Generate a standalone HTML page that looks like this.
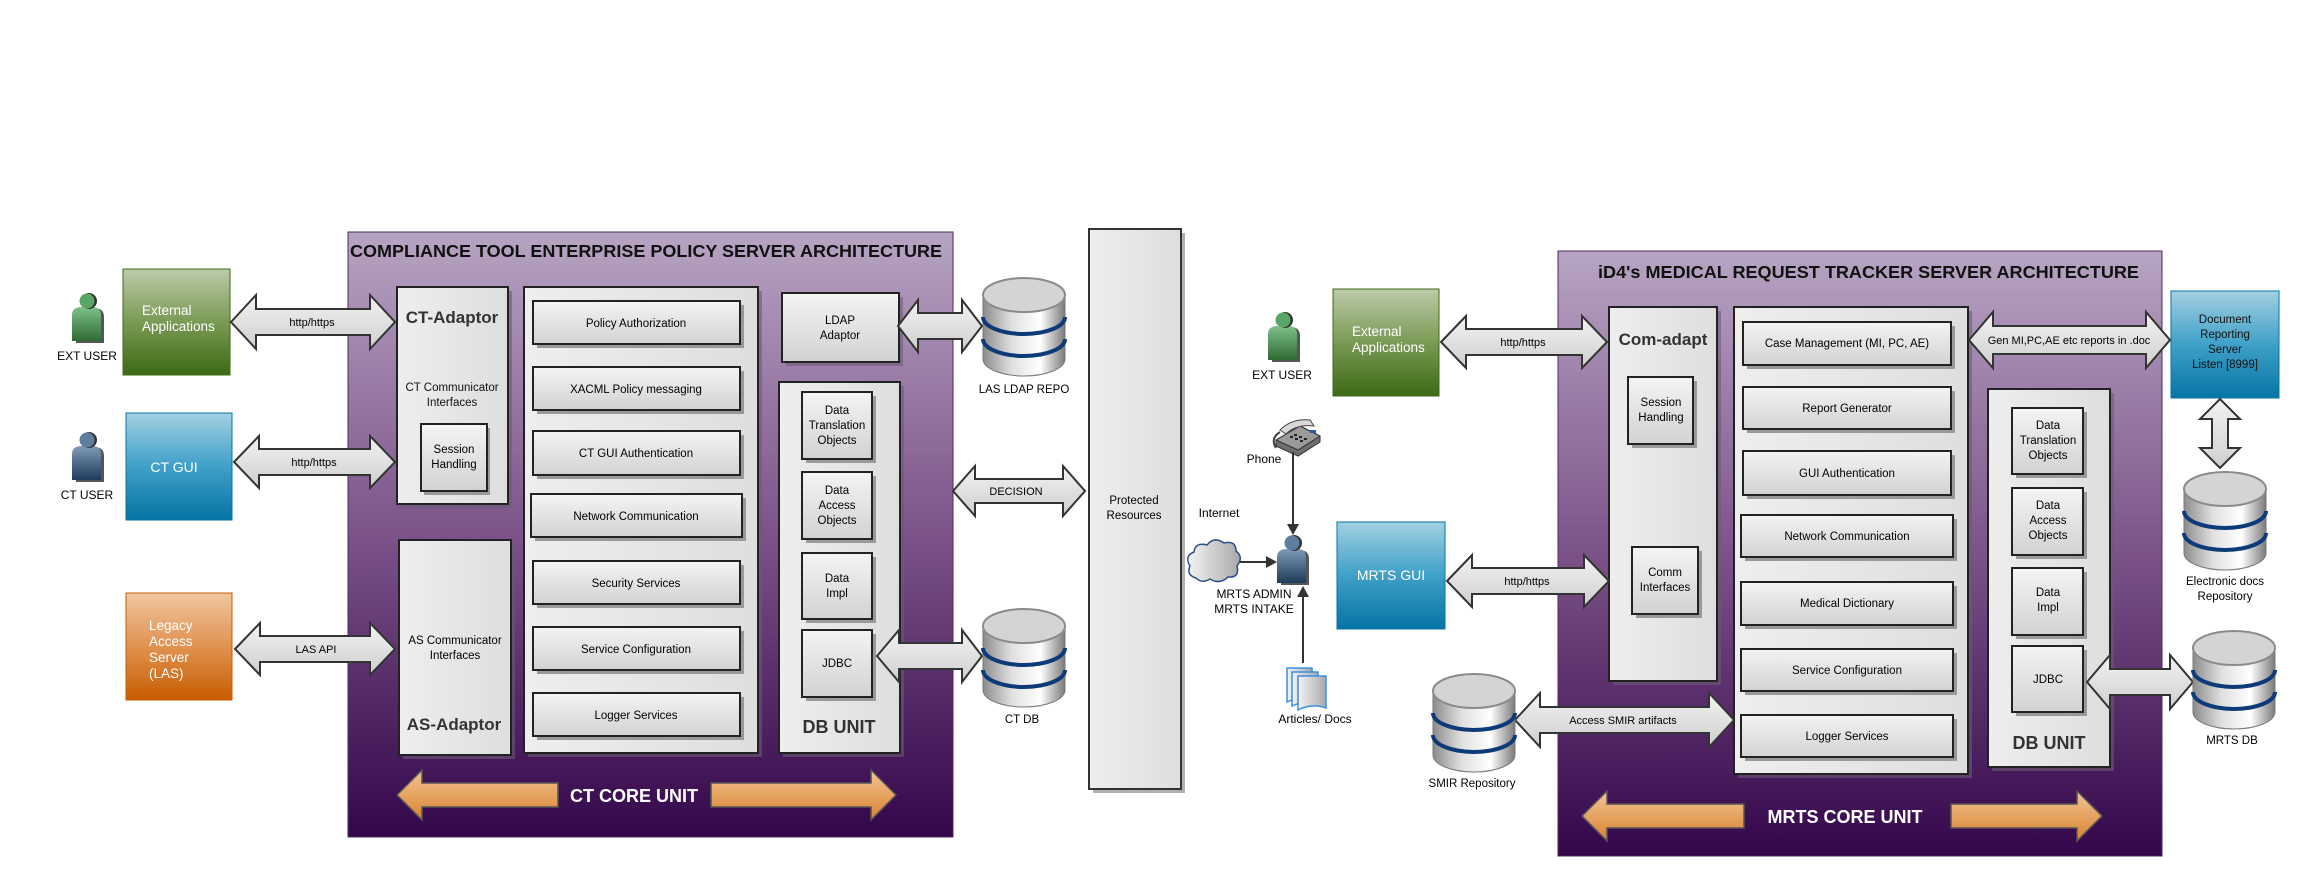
<!DOCTYPE html>
<html><head><meta charset="utf-8"><style>
html,body{margin:0;padding:0;background:#fff;}
svg{display:block;font-family:"Liberation Sans",Arial,sans-serif;}
</style></head><body>
<svg width="2299" height="878" viewBox="0 0 2299 878" xmlns="http://www.w3.org/2000/svg">
<defs>
<linearGradient id="pur" x1="0" y1="0" x2="0" y2="1"><stop offset="0" stop-color="#b7a4c2"/><stop offset="0.5" stop-color="#7b5389"/><stop offset="1" stop-color="#33064a"/></linearGradient>
<linearGradient id="box" x1="0" y1="0" x2="0" y2="1"><stop offset="0" stop-color="#f4f4f4"/><stop offset="1" stop-color="#d2d2d2"/></linearGradient>
<linearGradient id="col" x1="0" y1="0" x2="1" y2="0"><stop offset="0" stop-color="#eeeeee"/><stop offset="1" stop-color="#dedede"/></linearGradient>
<linearGradient id="arr" x1="0" y1="0" x2="0" y2="1"><stop offset="0" stop-color="#f2f2f2"/><stop offset="1" stop-color="#cfcfcf"/></linearGradient>
<linearGradient id="org" x1="0" y1="0" x2="0" y2="1"><stop offset="0" stop-color="#f3c594"/><stop offset="1" stop-color="#d9822f"/></linearGradient>
<linearGradient id="grn" x1="0" y1="0" x2="0" y2="1"><stop offset="0" stop-color="#bccbaa"/><stop offset="0.5" stop-color="#7a9a55"/><stop offset="1" stop-color="#3d6a14"/></linearGradient>
<linearGradient id="blu" x1="0" y1="0" x2="0" y2="1"><stop offset="0" stop-color="#a3d0e2"/><stop offset="0.5" stop-color="#3fa0c8"/><stop offset="1" stop-color="#0574a4"/></linearGradient>
<linearGradient id="orb" x1="0" y1="0" x2="0" y2="1"><stop offset="0" stop-color="#f0c6a0"/><stop offset="0.5" stop-color="#e09250"/><stop offset="1" stop-color="#c85c00"/></linearGradient>
<linearGradient id="cyl" x1="0" y1="0" x2="1" y2="0"><stop offset="0" stop-color="#8c8c8c"/><stop offset="0.35" stop-color="#e0e0e0"/><stop offset="0.7" stop-color="#ffffff"/><stop offset="1" stop-color="#7a7a7a"/></linearGradient>
<linearGradient id="pg" x1="0" y1="0" x2="0" y2="1"><stop offset="0" stop-color="#7fc08a"/><stop offset="1" stop-color="#2f6a32"/></linearGradient>
<linearGradient id="pb" x1="0" y1="0" x2="0" y2="1"><stop offset="0" stop-color="#7f9bb8"/><stop offset="1" stop-color="#1f3a5a"/></linearGradient>
<linearGradient id="cl" x1="0" y1="0" x2="1" y2="0"><stop offset="0" stop-color="#f4f4f4"/><stop offset="1" stop-color="#a8a8a8"/></linearGradient>
<g id="db">
<path d="M0,18 L0,82 A41,17 0 0 0 82,82 L82,18 Z" fill="url(#cyl)" stroke="#777" stroke-width="1"/>
<ellipse cx="41" cy="18" rx="41" ry="17" fill="#d4d4d7" stroke="#8a8a8a" stroke-width="2"/>
<path d="M0,40 A41,17 0 0 0 82,40" fill="none" stroke="#0d3a78" stroke-width="4"/>
<path d="M0,62 A41,17 0 0 0 82,62" fill="none" stroke="#0d3a78" stroke-width="4"/>
</g>
<g id="pgreen">
<path d="M4,50 L4,24 Q4,16 12,15 L24,15 Q32,16 32,24 L32,50 Z" fill="#555"/>
<path d="M0,48 L0,22 Q0,15 8,14 L22,14 Q29,15 29,22 L29,48 Z" fill="url(#pg)"/>
<circle cx="17" cy="8" r="8" fill="#333"/><circle cx="15" cy="8" r="7.5" fill="#5aa666"/>
</g>
<g id="pblue">
<path d="M4,50 L4,24 Q4,16 12,15 L24,15 Q32,16 32,24 L32,50 Z" fill="#555"/>
<path d="M0,48 L0,22 Q0,15 8,14 L22,14 Q29,15 29,22 L29,48 Z" fill="url(#pb)"/>
<circle cx="17" cy="8" r="8" fill="#333"/><circle cx="15" cy="8" r="7.5" fill="#5f7d9c"/>
</g>
</defs>

<rect x="348" y="232" width="605" height="605" fill="url(#pur)" stroke="#4a2a5a" stroke-width="1"/>
<text x="350" y="257" font-size="17.5" font-weight="bold" fill="#111" textLength="592" lengthAdjust="spacingAndGlyphs">COMPLIANCE TOOL ENTERPRISE POLICY SERVER ARCHITECTURE</text>

<use href="#pgreen" x="72" y="293"/>
<text x="87" y="360" font-size="12" text-anchor="middle">EXT USER</text>
<use href="#pblue" x="72" y="432"/>
<text x="87" y="499" font-size="12" text-anchor="middle">CT USER</text>

<rect x="123" y="269" width="107" height="106" fill="url(#grn)" stroke="#3d6a14"/>
<text fill="#fff" font-size="13.5"><tspan x="142" y="315">External</tspan><tspan x="142" y="331">Applications</tspan></text>
<rect x="126" y="413" width="106" height="107" fill="url(#blu)" stroke="#0574a4"/>
<text x="174" y="472" fill="#fff" font-size="14" text-anchor="middle">CT GUI</text>
<rect x="126" y="593" width="106" height="107" fill="url(#orb)" stroke="#c85c00"/>
<text fill="#fff" font-size="13.5"><tspan x="149" y="630">Legacy</tspan><tspan x="149" y="646">Access</tspan><tspan x="149" y="662">Server</tspan><tspan x="149" y="678">(LAS)</tspan></text>

<g fill="#6a5a74" opacity="0.6">
<rect x="401" y="291" width="111" height="217"/>
<rect x="403" y="544" width="112" height="215"/>
<rect x="528" y="291" width="234" height="466"/>
<rect x="786" y="297" width="117" height="69"/>
<rect x="783" y="386" width="121" height="371"/>
</g>
<rect x="397" y="287" width="111" height="217" fill="url(#col)" stroke="#222" stroke-width="2"/>
<text x="452" y="323" font-size="17" font-weight="bold" fill="#333" text-anchor="middle">CT-Adaptor</text>
<text font-size="11.5" text-anchor="middle" fill="#111"><tspan x="452" y="391">CT Communicator</tspan><tspan x="452" y="406">Interfaces</tspan></text>
<rect x="424" y="428" width="66" height="67" fill="#999"/>
<rect x="421" y="424" width="66" height="67" fill="url(#box)" stroke="#222" stroke-width="2"/>
<text font-size="11.5" text-anchor="middle"><tspan x="454" y="453">Session</tspan><tspan x="454" y="468">Handling</tspan></text>

<rect x="399" y="540" width="112" height="215" fill="url(#col)" stroke="#222" stroke-width="2"/>
<text font-size="11.5" text-anchor="middle"><tspan x="455" y="644">AS Communicator</tspan><tspan x="455" y="659">Interfaces</tspan></text>
<text x="454" y="730" font-size="17" font-weight="bold" fill="#333" text-anchor="middle">AS-Adaptor</text>

<rect x="524" y="287" width="234" height="466" fill="url(#col)" stroke="#222" stroke-width="2"/>
<g fill="#999">
<rect x="537" y="305" width="207" height="43"/><rect x="537" y="371" width="207" height="43"/><rect x="537" y="435" width="207" height="44"/>
<rect x="535" y="498" width="211" height="43"/><rect x="537" y="565" width="207" height="43"/><rect x="537" y="631" width="207" height="43"/><rect x="537" y="697" width="207" height="43"/>
</g>
<g fill="url(#box)" stroke="#222" stroke-width="2">
<rect x="533" y="301" width="207" height="43"/><rect x="533" y="367" width="207" height="43"/><rect x="533" y="431" width="207" height="44"/>
<rect x="531" y="494" width="211" height="43"/><rect x="533" y="561" width="207" height="43"/><rect x="533" y="627" width="207" height="43"/><rect x="533" y="693" width="207" height="43"/>
</g>
<g font-size="11.5" text-anchor="middle">
<text x="636" y="327">Policy Authorization</text><text x="636" y="393">XACML Policy messaging</text><text x="636" y="457">CT GUI Authentication</text>
<text x="636" y="520">Network Communication</text><text x="636" y="587">Security Services</text><text x="636" y="653">Service Configuration</text><text x="636" y="719">Logger Services</text>
</g>

<rect x="782" y="293" width="117" height="69" fill="url(#box)" stroke="#222" stroke-width="2"/>
<text font-size="11.5" text-anchor="middle"><tspan x="840" y="324">LDAP</tspan><tspan x="840" y="339">Adaptor</tspan></text>
<rect x="779" y="382" width="121" height="371" fill="url(#col)" stroke="#222" stroke-width="2"/>
<g fill="#999"><rect x="806" y="396" width="70" height="67"/><rect x="806" y="476" width="70" height="67"/><rect x="806" y="557" width="70" height="66"/><rect x="806" y="634" width="70" height="67"/></g>
<g fill="url(#box)" stroke="#222" stroke-width="2"><rect x="802" y="392" width="70" height="67"/><rect x="802" y="472" width="70" height="67"/><rect x="802" y="553" width="70" height="66"/><rect x="802" y="630" width="70" height="67"/></g>
<g font-size="11.5" text-anchor="middle">
<text><tspan x="837" y="414">Data</tspan><tspan x="837" y="429">Translation</tspan><tspan x="837" y="444">Objects</tspan></text>
<text><tspan x="837" y="494">Data</tspan><tspan x="837" y="509">Access</tspan><tspan x="837" y="524">Objects</tspan></text>
<text><tspan x="837" y="582">Data</tspan><tspan x="837" y="597">Impl</tspan></text>
<text x="837" y="667">JDBC</text>
</g>
<text x="839" y="733" font-size="18" font-weight="bold" fill="#333" text-anchor="middle">DB UNIT</text>

<g fill="url(#org)" stroke="#555" stroke-width="1.5">
<path d="M397,795 L422,770 L422,783 L558,783 L558,807 L422,807 L422,820 Z"/>
<path d="M896,795 L871,770 L871,783 L711,783 L711,807 L871,807 L871,820 Z"/>
</g>
<text x="634" y="802" font-size="18" font-weight="bold" fill="#fff" text-anchor="middle">CT CORE UNIT</text>

<g fill="url(#arr)" stroke="#333" stroke-width="2">
<path d="M231,322 L256,295 L256,309 L370,309 L370,295 L395,322 L370,349 L370,335 L256,335 L256,349 Z"/>
<path d="M234,462 L259,436 L259,449 L370,449 L370,436 L395,462 L370,488 L370,475 L259,475 L259,488 Z"/>
<path d="M235,649 L260,623 L260,636 L370,636 L370,623 L395,649 L370,675 L370,662 L260,662 L260,675 Z"/>
<path d="M898,326 L918,300 L918,313 L962,313 L962,300 L982,326 L962,352 L962,339 L918,339 L918,352 Z"/>
<path d="M953,491 L975,466 L975,479 L1063,479 L1063,466 L1085,491 L1063,516 L1063,503 L975,503 L975,516 Z"/>
<path d="M877,656 L899,630 L899,643 L962,643 L962,630 L982,656 L962,682 L962,669 L899,669 L899,682 Z"/>
</g>
<g font-size="11" text-anchor="middle">
<text x="312" y="326">http/https</text><text x="314" y="466">http/https</text><text x="316" y="653">LAS API</text><text x="1016" y="495">DECISION</text>
</g>

<use href="#db" x="983" y="277"/>
<text x="1024" y="393" font-size="11.5" text-anchor="middle">LAS LDAP REPO</text>
<use href="#db" x="983" y="608"/>
<text x="1022" y="723" font-size="11.5" text-anchor="middle">CT DB</text>

<rect x="1093" y="233" width="92" height="560" fill="#b0b0b0"/>
<rect x="1089" y="229" width="92" height="560" fill="url(#col)" stroke="#333" stroke-width="2"/>
<text font-size="11.5" text-anchor="middle"><tspan x="1134" y="504">Protected</tspan><tspan x="1134" y="519">Resources</tspan></text>

<text x="1219" y="517" font-size="12" text-anchor="middle">Internet</text>
<path d="M1196,578 Q1186,575 1190,566 Q1184,556 1194,552 Q1195,542 1207,545 Q1214,536 1224,543 Q1236,540 1236,551 Q1244,557 1237,566 Q1240,578 1228,577 Q1220,585 1210,579 Q1202,584 1196,578 Z" fill="url(#cl)" stroke="#2b4f8a" stroke-width="1.5"/>
<line x1="1240" y1="562" x2="1268" y2="562" stroke="#333" stroke-width="2"/>
<path d="M1266,556 L1277,562 L1266,568 Z" fill="#333"/>
<g transform="translate(1266,416)">
<path d="M10,24 L34,10 L54,20 L54,26 L32,40 L10,30 Z" fill="#6e6e6e" stroke="#333"/>
<path d="M10,24 L32,34 L54,20 L34,10 Z" fill="#9a9a9a" stroke="#333"/>
<g fill="#222"><rect x="24" y="20" width="3" height="2"/><rect x="29" y="22" width="3" height="2"/><rect x="34" y="24" width="3" height="2"/><rect x="28" y="18" width="3" height="2"/><rect x="33" y="20" width="3" height="2"/><rect x="38" y="22" width="3" height="2"/></g>
<path d="M14,14 Q26,2 44,4 L48,10 Q30,8 20,18 Z" fill="#d8d8d8" stroke="#444"/>
<path d="M14,16 Q4,22 10,32" fill="none" stroke="#444" stroke-width="2"/>
<rect x="44" y="14" width="6" height="3" fill="#2a5fa8"/>
</g>
<text x="1264" y="463" font-size="12" text-anchor="middle">Phone</text>
<line x1="1293" y1="452" x2="1293" y2="525" stroke="#333" stroke-width="2"/>
<path d="M1287,524 L1293,535 L1299,524 Z" fill="#333"/>
<use href="#pblue" x="1277" y="535"/>
<text font-size="12" text-anchor="middle"><tspan x="1254" y="598">MRTS  ADMIN</tspan><tspan x="1254" y="613">MRTS INTAKE</tspan></text>
<line x1="1303" y1="663" x2="1303" y2="596" stroke="#333" stroke-width="2"/>
<path d="M1297,597 L1303,586 L1309,597 Z" fill="#333"/>
<g stroke="#3a8ee6" stroke-width="1.5" fill="url(#cl)">
<path d="M1287,668 L1312,668 L1312,700 Q1300,696 1287,702 Z"/>
<path d="M1292,672 L1318,672 L1318,704 Q1305,700 1292,706 Z"/>
<path d="M1298,676 L1326,676 L1326,708 Q1312,703 1298,710 Z"/>
</g>
<text x="1315" y="723" font-size="12" text-anchor="middle">Articles/ Docs</text>

<rect x="1558" y="251" width="604" height="605" fill="url(#pur)" stroke="#4a2a5a" stroke-width="1"/>
<text x="1598" y="278" font-size="17.5" font-weight="bold" fill="#111" textLength="541" lengthAdjust="spacingAndGlyphs">iD4's MEDICAL REQUEST TRACKER SERVER ARCHITECTURE</text>

<use href="#pgreen" x="1268" y="312"/>
<text x="1282" y="379" font-size="12" text-anchor="middle">EXT USER</text>
<rect x="1333" y="289" width="106" height="107" fill="url(#grn)" stroke="#3d6a14"/>
<text fill="#fff" font-size="13.5"><tspan x="1352" y="336">External</tspan><tspan x="1352" y="352">Applications</tspan></text>
<rect x="1337" y="522" width="108" height="107" fill="url(#blu)" stroke="#0574a4"/>
<text x="1391" y="580" fill="#fff" font-size="14" text-anchor="middle">MRTS GUI</text>

<g fill="#6a5a74" opacity="0.6">
<rect x="1613" y="311" width="108" height="374"/>
<rect x="1738" y="311" width="234" height="467"/>
<rect x="1992" y="393" width="122" height="378"/>
</g>
<rect x="1609" y="307" width="108" height="374" fill="url(#col)" stroke="#222" stroke-width="2"/>
<text x="1663" y="345" font-size="17" font-weight="bold" fill="#333" text-anchor="middle">Com-adapt</text>
<g fill="#999"><rect x="1632" y="381" width="65" height="67"/><rect x="1636" y="551" width="66" height="67"/></g>
<g fill="url(#box)" stroke="#222" stroke-width="2"><rect x="1628" y="377" width="65" height="67"/><rect x="1632" y="547" width="66" height="67"/></g>
<g font-size="11.5" text-anchor="middle">
<text><tspan x="1661" y="406">Session</tspan><tspan x="1661" y="421">Handling</tspan></text>
<text><tspan x="1665" y="576">Comm</tspan><tspan x="1665" y="591">Interfaces</tspan></text>
</g>

<rect x="1734" y="307" width="234" height="467" fill="url(#col)" stroke="#222" stroke-width="2"/>
<g fill="#999">
<rect x="1747" y="326" width="208" height="43"/><rect x="1747" y="391" width="208" height="42"/><rect x="1747" y="455" width="208" height="44"/>
<rect x="1745" y="519" width="212" height="42"/><rect x="1745" y="586" width="212" height="43"/><rect x="1745" y="653" width="212" height="42"/><rect x="1745" y="719" width="212" height="42"/>
</g>
<g fill="url(#box)" stroke="#222" stroke-width="2">
<rect x="1743" y="322" width="208" height="43"/><rect x="1743" y="387" width="208" height="42"/><rect x="1743" y="451" width="208" height="44"/>
<rect x="1741" y="515" width="212" height="42"/><rect x="1741" y="582" width="212" height="43"/><rect x="1741" y="649" width="212" height="42"/><rect x="1741" y="715" width="212" height="42"/>
</g>
<g font-size="11.5" text-anchor="middle">
<text x="1847" y="347">Case Management (MI, PC, AE)</text><text x="1847" y="412">Report Generator</text><text x="1847" y="477">GUI Authentication</text>
<text x="1847" y="540">Network Communication</text><text x="1847" y="607">Medical Dictionary</text><text x="1847" y="674">Service Configuration</text><text x="1847" y="740">Logger Services</text>
</g>

<rect x="1988" y="389" width="122" height="378" fill="url(#col)" stroke="#222" stroke-width="2"/>
<g fill="#999"><rect x="2016" y="412" width="71" height="66"/><rect x="2016" y="492" width="71" height="67"/><rect x="2016" y="572" width="71" height="67"/><rect x="2016" y="650" width="71" height="66"/></g>
<g fill="url(#box)" stroke="#222" stroke-width="2"><rect x="2012" y="408" width="71" height="66"/><rect x="2012" y="488" width="71" height="67"/><rect x="2012" y="568" width="71" height="67"/><rect x="2012" y="646" width="71" height="66"/></g>
<g font-size="11.5" text-anchor="middle">
<text><tspan x="2048" y="429">Data</tspan><tspan x="2048" y="444">Translation</tspan><tspan x="2048" y="459">Objects</tspan></text>
<text><tspan x="2048" y="509">Data</tspan><tspan x="2048" y="524">Access</tspan><tspan x="2048" y="539">Objects</tspan></text>
<text><tspan x="2048" y="596">Data</tspan><tspan x="2048" y="611">Impl</tspan></text>
<text x="2048" y="683">JDBC</text>
</g>
<text x="2049" y="749" font-size="18" font-weight="bold" fill="#333" text-anchor="middle">DB UNIT</text>

<g fill="url(#org)" stroke="#555" stroke-width="1.5">
<path d="M1582,816 L1607,791 L1607,804 L1744,804 L1744,828 L1607,828 L1607,841 Z"/>
<path d="M2102,816 L2077,791 L2077,804 L1951,804 L1951,828 L2077,828 L2077,841 Z"/>
</g>
<text x="1845" y="823" font-size="18" font-weight="bold" fill="#fff" text-anchor="middle">MRTS CORE UNIT</text>

<rect x="2171" y="291" width="108" height="107" fill="url(#blu)" stroke="#0574a4"/>
<text font-size="11.5" text-anchor="middle" fill="#111"><tspan x="2225" y="323">Document</tspan><tspan x="2225" y="338">Reporting</tspan><tspan x="2225" y="353">Server</tspan><tspan x="2225" y="368">Listen [8999]</tspan></text>

<g fill="url(#arr)" stroke="#333" stroke-width="2">
<path d="M1441,342 L1466,316 L1466,329 L1582,329 L1582,316 L1607,342 L1582,368 L1582,355 L1466,355 L1466,368 Z"/>
<path d="M1447,581 L1472,555 L1472,568 L1584,568 L1584,555 L1609,581 L1584,607 L1584,594 L1472,594 L1472,607 Z"/>
<path d="M1969,340 L1993,312 L1993,326 L2146,326 L2146,312 L2170,340 L2146,368 L2146,354 L1993,354 L1993,368 Z"/>
<path d="M1515,720 L1540,693 L1540,707 L1709,707 L1709,693 L1734,720 L1709,747 L1709,733 L1540,733 L1540,747 Z"/>
<path d="M2087,682 L2110,655 L2110,669 L2170,669 L2170,655 L2193,682 L2170,709 L2170,695 L2110,695 L2110,709 Z"/>
<path d="M2220,399 L2240,419 L2228,419 L2228,448 L2240,448 L2220,468 L2200,448 L2212,448 L2212,419 L2200,419 Z"/>
</g>
<g font-size="11" text-anchor="middle">
<text x="1523" y="346">http/https</text><text x="1527" y="585">http/https</text>
<text x="2069" y="344">Gen MI,PC,AE etc reports in .doc</text>
<text x="1623" y="724">Access SMIR artifacts</text>
</g>

<use href="#db" x="2184" y="471"/>
<text font-size="11.5" text-anchor="middle"><tspan x="2225" y="585">Electronic docs</tspan><tspan x="2225" y="600">Repository</tspan></text>
<use href="#db" x="2193" y="630"/>
<text x="2232" y="744" font-size="11.5" text-anchor="middle">MRTS DB</text>
<use href="#db" x="1433" y="673"/>
<text x="1472" y="787" font-size="11.5" text-anchor="middle">SMIR Repository</text>
</svg>
</body></html>
